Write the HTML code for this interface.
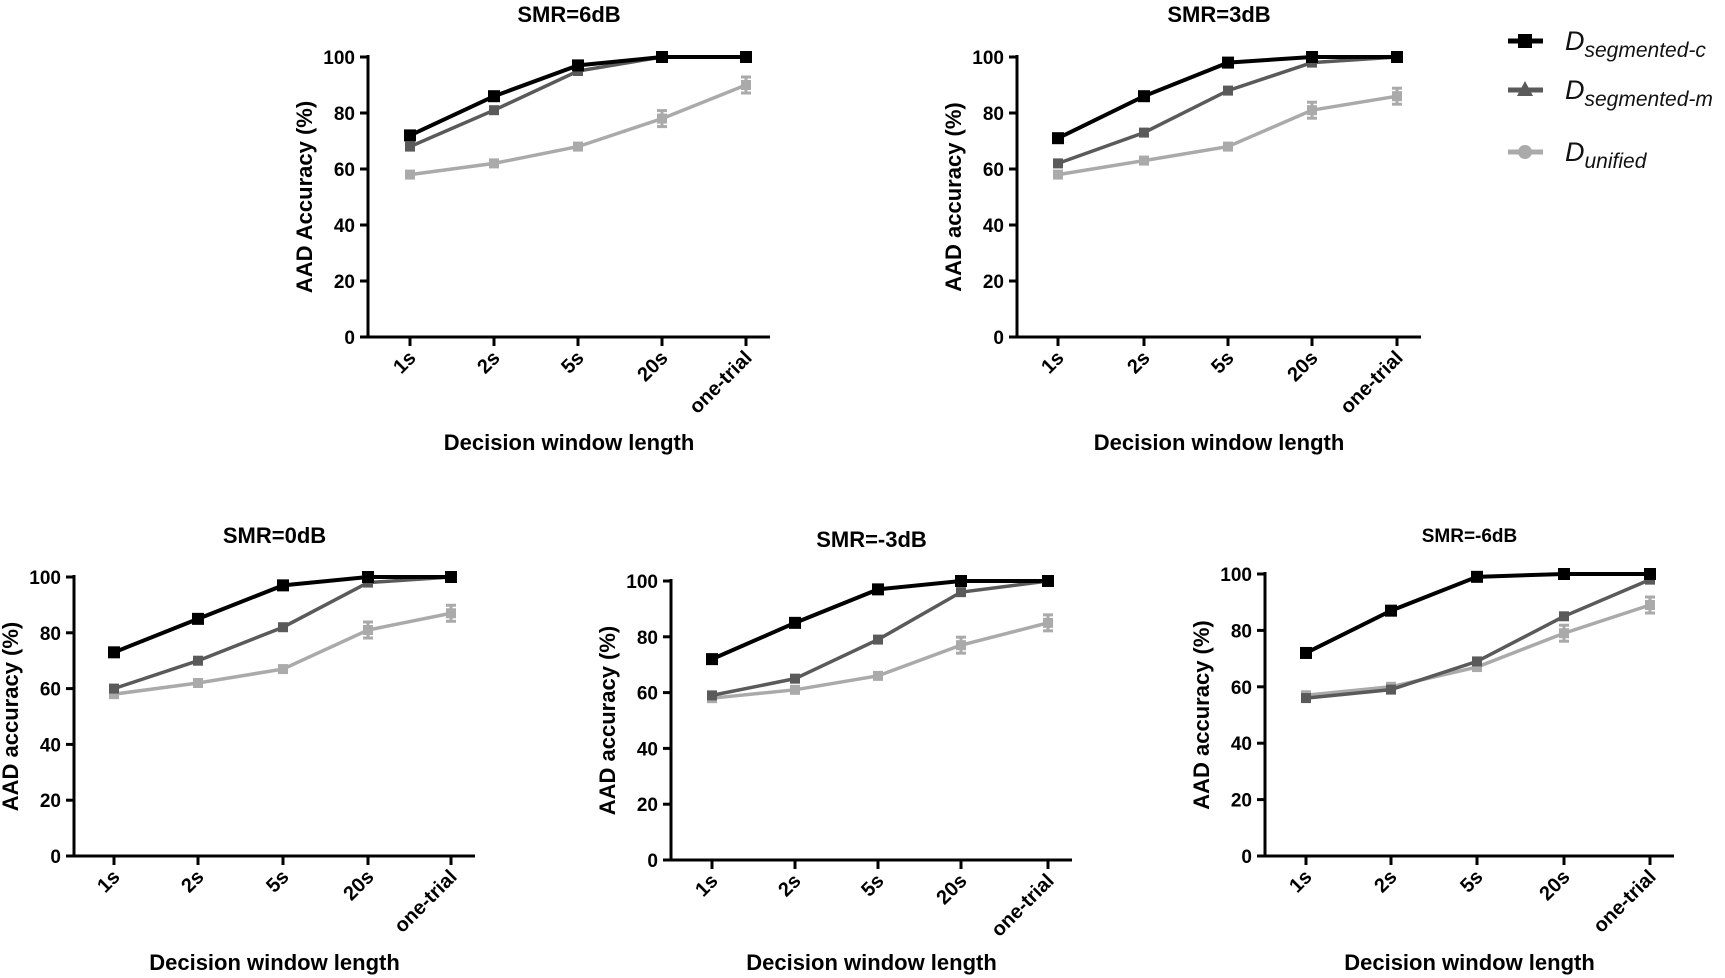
<!DOCTYPE html><html><head><style>body{margin:0;background:#fff}svg{display:block;font-family:"Liberation Sans",Arial,sans-serif}</style></head><body>
<svg id="s" width="1725" height="978" xmlns="http://www.w3.org/2000/svg"></svg>
<script>
const charts=[
{t:"SMR=6dB",ax:368,y1:57,y0:337,ticks:[410,494,578,662,746],ty:22,xl:450,yl:"AAD Accuracy (%)",fs:22,
 d:[[72,86,97,100,100],[68,81,95,100,100],[58,62,68,78,90]]},
{t:"SMR=3dB",ax:1017,y1:57,y0:337,ticks:[1058,1144,1228,1312,1397],ty:22,xl:450,yl:"AAD accuracy (%)",fs:22,
 d:[[71,86,98,100,100],[62,73,88,98,100],[58,63,68,81,86]]},
{t:"SMR=0dB",ax:74,y1:577,y0:856,ticks:[114,198,283,368,451],ty:543,xl:970,yl:"AAD accuracy (%)",fs:22,
 d:[[73,85,97,100,100],[60,70,82,98,100],[58,62,67,81,87]]},
{t:"SMR=-3dB",ax:671,y1:581,y0:860,ticks:[712,795,878,961,1048],ty:547,xl:970,yl:"AAD accuracy (%)",fs:22,
 d:[[72,85,97,100,100],[59,65,79,96,100],[58,61,66,77,85]]},
{t:"SMR=-6dB",ax:1265,y1:574,y0:856,ticks:[1306,1391,1477,1564,1650],ty:542,xl:970,yl:"AAD accuracy (%)",fs:19,
 d:[[72,87,99,100,100],[56,59,69,85,98],[57,60,67,79,89]]}];
const cols=["#000","#5a5a5a","#aaa"],lw=[4,3.5,3.5];
let h="";
const labs=["1s","2s","5s","20s","one-trial"];
for(const c of charts){
 const Y=v=>c.y0-(c.y0-c.y1)*v/100;
 const end=c.ticks[4]+24, mid=(c.ax+end)/2;
 h+=`<text x="${mid}" y="${c.ty}" font-size="${c.fs}" font-weight="bold" text-anchor="middle">${c.t}</text>`;
 h+=`<line x1="${c.ax}" y1="${c.y1-2}" x2="${c.ax}" y2="${c.y0}" stroke="#000" stroke-width="3"/>`;
 h+=`<line x1="${c.ax-1}" y1="${c.y0}" x2="${end}" y2="${c.y0}" stroke="#000" stroke-width="3"/>`;
 for(let v=0;v<=100;v+=20){const y=Y(v);h+=`<line x1="${c.ax-8}" y1="${y}" x2="${c.ax}" y2="${y}" stroke="#000" stroke-width="3"/><text x="${c.ax-13}" y="${y+7}" font-size="19" font-weight="bold" text-anchor="end">${v}</text>`;}
 c.ticks.forEach((x,i)=>{h+=`<line x1="${x}" y1="${c.y0}" x2="${x}" y2="${c.y0+9}" stroke="#000" stroke-width="3"/><text transform="translate(${x+7},${c.y0+22}) rotate(-45)" font-size="20" font-weight="bold" text-anchor="end">${labs[i]}</text>`;});
 h+=`<text x="${mid}" y="${c.xl}" font-size="22" font-weight="bold" text-anchor="middle">Decision window length</text>`;
 h+=`<text transform="translate(${c.ax-56},${(c.y0+c.y1)/2}) rotate(-90)" font-size="22" font-weight="bold" text-anchor="middle">${c.yl}</text>`;
 for(let s=2;s>=0;s--){
  const pts=c.d[s].map((v,i)=>`${c.ticks[i]},${Y(v)}`).join(" ");
  h+=`<polyline points="${pts}" fill="none" stroke="${cols[s]}" stroke-width="${lw[s]}"/>`;
  c.d[s].forEach((v,i)=>{const x=c.ticks[i],y=Y(v);
   if(s==2&&i>=3)h+=`<line x1="${x}" y1="${y-8}" x2="${x}" y2="${y+8}" stroke="${cols[s]}" stroke-width="3"/><line x1="${x-5}" y1="${y-8}" x2="${x+5}" y2="${y-8}" stroke="${cols[s]}" stroke-width="3"/><line x1="${x-5}" y1="${y+8}" x2="${x+5}" y2="${y+8}" stroke="${cols[s]}" stroke-width="3"/>`;
   const r=s==0?6:5;h+=`<rect x="${x-r}" y="${y-r}" width="${2*r}" height="${2*r}" fill="${cols[s]}"/>`;});
 }
}
const L=[[41,"segmented-c"],[90,"segmented-m"],[152,"unified"]];
L.forEach(([y,t],i)=>{h+=`<line x1="1508" y1="${y}" x2="1543" y2="${y}" stroke="${cols[i]}" stroke-width="5"/>`;
 if(i==0)h+=`<rect x="1518" y="${y-7}" width="14" height="14" fill="#000"/>`;
 if(i==1)h+=`<polygon points="1525,${y-9} 1533,${y+6} 1517,${y+6}" fill="${cols[1]}"/>`;
 if(i==2)h+=`<circle cx="1525" cy="${y}" r="7" fill="${cols[2]}"/>`;
 h+=`<text x="1565" y="${y+9}" font-size="27" font-style="italic" fill="#111">D<tspan font-size="21" dy="7">${t}</tspan></text>`;});
document.getElementById("s").innerHTML=h;
</script></body></html>
